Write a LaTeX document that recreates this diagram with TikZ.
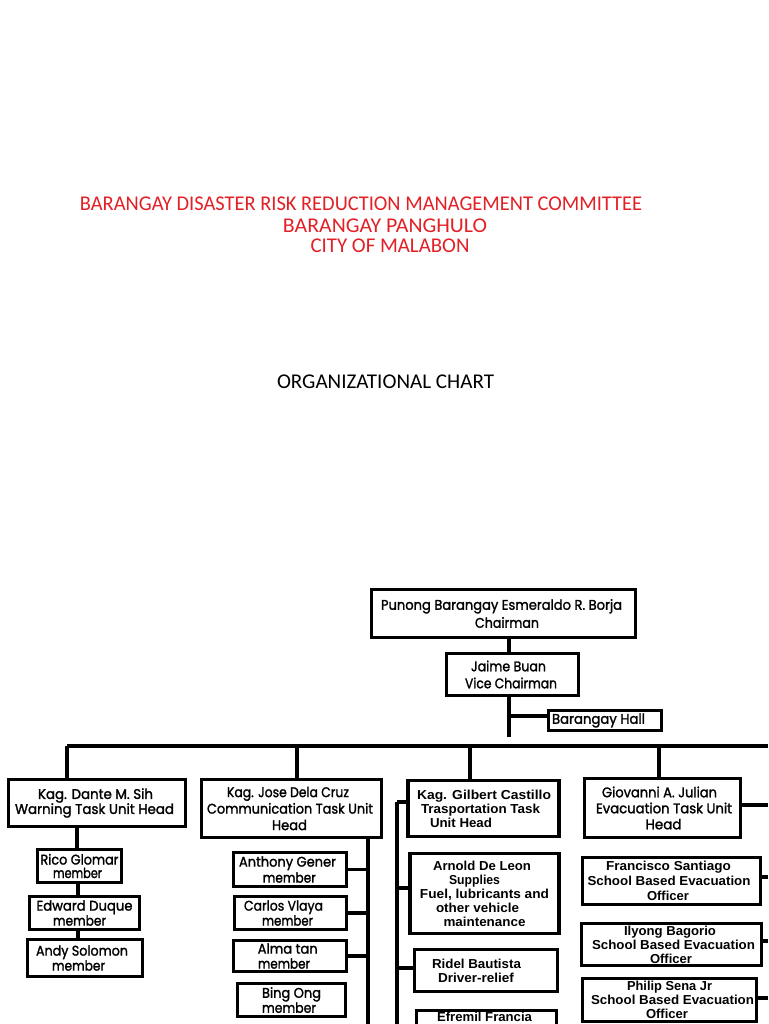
\documentclass[tikz,border=0pt]{standalone}
\usepackage{fontspec}
\usepackage{graphicx}
\setmainfont{Poppins}
\newfontfamily\gfont{Poppins}[FakeBold=1.6]
\newfontfamily\arialf{Liberation Sans}
\newfontfamily\titlef{Carlito}
\definecolor{titlered}{RGB}{226,32,38}
\newcommand\fw[2]{\resizebox{#1pt}{\height}{#2}}
\newcommand\txl[3]{\hspace*{\dimexpr #1pt*2\relax}\fw{#2}{#3}}
\tikzset{
  box/.style={draw=black, line width=3.3pt, inner sep=0pt, align=center},
  gbox/.style={box, font=\gfont\fontsize{14}{16}\selectfont},
  abox/.style={box, font=\arialf\bfseries\fontsize{13}{14}\selectfont},
  ttl/.style={inner sep=0pt, text depth=0pt, text=titlered, font=\titlef\fontsize{21}{21}\selectfont},
  hd/.style={inner sep=0pt, text depth=0pt, text=black, font=\titlef\fontsize{21}{21}\selectfont},
  conn/.style={draw=black, line width=3.3pt},
}
\begin{document}
\begin{tikzpicture}[x=1pt,y=-1pt]
\fill[white] (0,0) rectangle (768,1024);
\useasboundingbox (0,0) rectangle (768,1024);
\clip (0,0) rectangle (768,1024);

% titles
\node[ttl] (t1) at (361,204) {\fw{562}{BARANGAY DISASTER RISK REDUCTION MANAGEMENT COMMITTEE}};
\node[ttl] (t2) at (385,226) {\fw{204}{BARANGAY PANGHULO}};
\node[ttl] (t3) at (390,246) {\fw{159}{CITY OF MALABON}};
\node[hd] (t4) at (385.5,382) {\fw{217}{ORGANIZATIONAL CHART}};

% top
\node[gbox, font=\gfont\fontsize{14}{18}\selectfont, minimum width=264pt, minimum height=48pt] (chair) at (503.5,613.5)
  {\txl{-2}{241}{Punong Barangay Esmeraldo R. Borja}\\\txl{3.5}{64}{Chairman}};
\node[gbox, font=\gfont\fontsize{14}{17}\selectfont, minimum width=132pt, minimum height=42pt] (vice) at (512.5,674.5)
  {\txl{-4}{75}{Jaime Buan}\\\txl{-1.5}{92}{Vice Chairman}};
\node[gbox, minimum width=113pt, minimum height=20pt] (hall) at (605,720.5)
  {\txl{-6.5}{93}{Barangay Hall}};

% column 1
\node[gbox, font=\gfont\fontsize{14}{15}\selectfont, minimum width=177pt, minimum height=47pt] (dante) at (97,803)
  {\txl{-1.5}{115}{Kag. Dante M. Sih}\\\txl{-2.5}{159}{Warning Task Unit Head}};
\node[gbox, font=\gfont\fontsize{14}{13.5}\selectfont, minimum width=84pt, minimum height=33pt] (rico) at (79.5,866)
  {\txl{0}{78}{Rico Glomar}\\\txl{-2}{49}{member}};
\node[gbox, font=\gfont\fontsize{14}{14}\selectfont, minimum width=110pt, minimum height=33pt] (edward) at (84.5,913)
  {\txl{0}{96}{Edward Duque}\\\txl{-5}{53}{member}};
\node[gbox, font=\gfont\fontsize{14}{15}\selectfont, minimum width=115pt, minimum height=37pt] (andy) at (85,958)
  {\txl{-3}{92}{Andy Solomon}\\\txl{-6.5}{53}{member}};

% column 2
\node[gbox, font=\gfont\fontsize{14}{16.5}\selectfont, minimum width=180pt, minimum height=58pt] (jose) at (291.5,808.5)
  {\txl{-3.5}{122}{Kag. Jose Dela Cruz}\\\txl{-1.5}{166}{Communication Task Unit}\\\txl{-2}{35}{Head}};
\node[gbox, font=\gfont\fontsize{14}{16}\selectfont, minimum width=113pt, minimum height=34pt] (anthony) at (290,869.5)
  {\txl{-2.5}{97}{Anthony Gener}\\\txl{-0.7}{53}{member}};
\node[gbox, font=\gfont\fontsize{14}{15}\selectfont, minimum width=112pt, minimum height=33pt] (carlos) at (290.5,913)
  {\txl{-7}{79}{Carlos Vlaya}\\\txl{-3}{51}{member}};
\node[gbox, font=\gfont\fontsize{14}{15}\selectfont, minimum width=113pt, minimum height=31pt] (alma) at (290,956)
  {\txl{-2.3}{60}{Alma tan}\\\txl{-6}{52}{member}};
\node[gbox, font=\gfont\fontsize{14}{15}\selectfont, minimum width=108pt, minimum height=33pt] (bing) at (291.5,1000)
  {\txl{0}{59}{Bing Ong}\\\txl{-2.5}{54}{member}};

% column 3
\node[abox, minimum width=151pt, minimum height=56pt] (gilbert) at (483.5,808.5)
  {\txl{0.5}{134}{Kag. Gilbert Castillo}\\\txl{-3}{119}{Trasportation Task}\\\txl{-22.5}{62}{Unit Head}};
\node[abox, minimum width=149pt, minimum height=80pt] (arnold) at (484.5,893.5)
  {\txl{-2.5}{98}{Arnold De Leon}\\\txl{-10}{51}{Supplies}\\\txl{0}{129}{Fuel, lubricants and}\\\txl{-7}{83}{other vehicle}\\\txl{0}{82}{maintenance}};
\node[abox, minimum width=143pt, minimum height=42pt] (ridel) at (486,970.5)
  {\txl{-9.5}{89}{Ridel Bautista}\\\txl{-10}{76}{Driver-relief}};
\node[abox, anchor=north, minimum width=140pt, inner ysep=1.5pt, text height=10pt, text depth=30pt] (efremil) at (486.5,1008.5)
  {\txl{-2}{95}{Efremil Francia}};

% column 4
\node[gbox, font=\gfont\fontsize{14}{16}\selectfont, minimum width=156pt, minimum height=59pt] (giovanni) at (662.5,808)
  {\txl{-3}{115}{Giovanni A. Julian}\\\txl{1.5}{136}{Evacuation Task Unit}\\\txl{1}{36}{Head}};
\node[abox, font=\arialf\bfseries\fontsize{13}{15}\selectfont, minimum width=178pt, minimum height=47pt] (francisco) at (671.5,881)
  {\txl{-3}{125}{Francisco Santiago}\\\txl{-2.5}{163}{School Based Evacuation}\\\txl{-3.5}{42}{Officer}};
\node[abox, minimum width=180pt, minimum height=42pt] (ilyong) at (671.5,944.5)
  {\txl{-1.5}{92}{Ilyong Bagorio}\\\txl{2}{163}{School Based Evacuation}\\\txl{-0.5}{42}{Officer}};
\node[abox, minimum width=174pt, minimum height=43pt] (philip) at (669.5,1000)
  {\txl{0}{85}{Philip Sena Jr}\\\txl{3}{163}{School Based Evacuation}\\\txl{-2.5}{42}{Officer}};

% connector coordinates
\coordinate (s0) at (509,737);
\coordinate (hb) at (509,716);
\coordinate (busL) at (67,746);
\coordinate (busR) at (768,746);
\coordinate (b2) at (297,746);
\coordinate (b3) at (470,746);
\coordinate (b4) at (659,746);
\coordinate (d1) at (77,0);
\coordinate (d2) at (78,0);
\coordinate (jx) at (368,1024);
\coordinate (gt) at (397,802);
\coordinate (gx) at (397,1024);
\coordinate (ga) at (397,888);
\coordinate (gr) at (397,968);
\coordinate (e1) at (768,805);
\coordinate (e2) at (768,877);
\coordinate (e3) at (768,941);
\coordinate (e4) at (768,998);

% connectors
\draw[conn] (chair.south -| s0) -- (vice.north -| s0);
\draw[conn] (vice.south -| s0) -- (s0);
\draw[conn] (hb) -- (hb -| hall.west);
\draw[conn] (busL) -- (busR);
\draw[conn] (busL) -- (busL |- dante.north);
\draw[conn] (b2) -- (b2 |- jose.north);
\draw[conn] (b3) -- (b3 |- gilbert.north);
\draw[conn] (b4) -- (b4 |- giovanni.north);
\draw[conn] (dante.south -| d1) -- (rico.north -| d1);
\draw[conn] (rico.south -| d2) -- (edward.north -| d2);
\draw[conn] (edward.south -| d2) -- (andy.north -| d2);
\draw[conn] (jose.south -| jx) -- (jx);
\draw[conn] (jx |- anthony.east) -- (anthony.east);
\draw[conn] (jx |- carlos.east) -- (carlos.east);
\draw[conn] (jx |- alma.east) -- (alma.east);
\draw[conn] (gt) -- (gx);
\draw[conn] (gt) -- (gt -| gilbert.west);
\draw[conn] (ga) -- (ga -| arnold.west);
\draw[conn] (gr) -- (gr -| ridel.west);
\draw[conn] (giovanni.east |- e1) -- (e1);
\draw[conn] (francisco.east |- e2) -- (e2);
\draw[conn] (ilyong.east |- e3) -- (e3);
\draw[conn] (philip.east |- e4) -- (e4);
\end{tikzpicture}
\end{document}
